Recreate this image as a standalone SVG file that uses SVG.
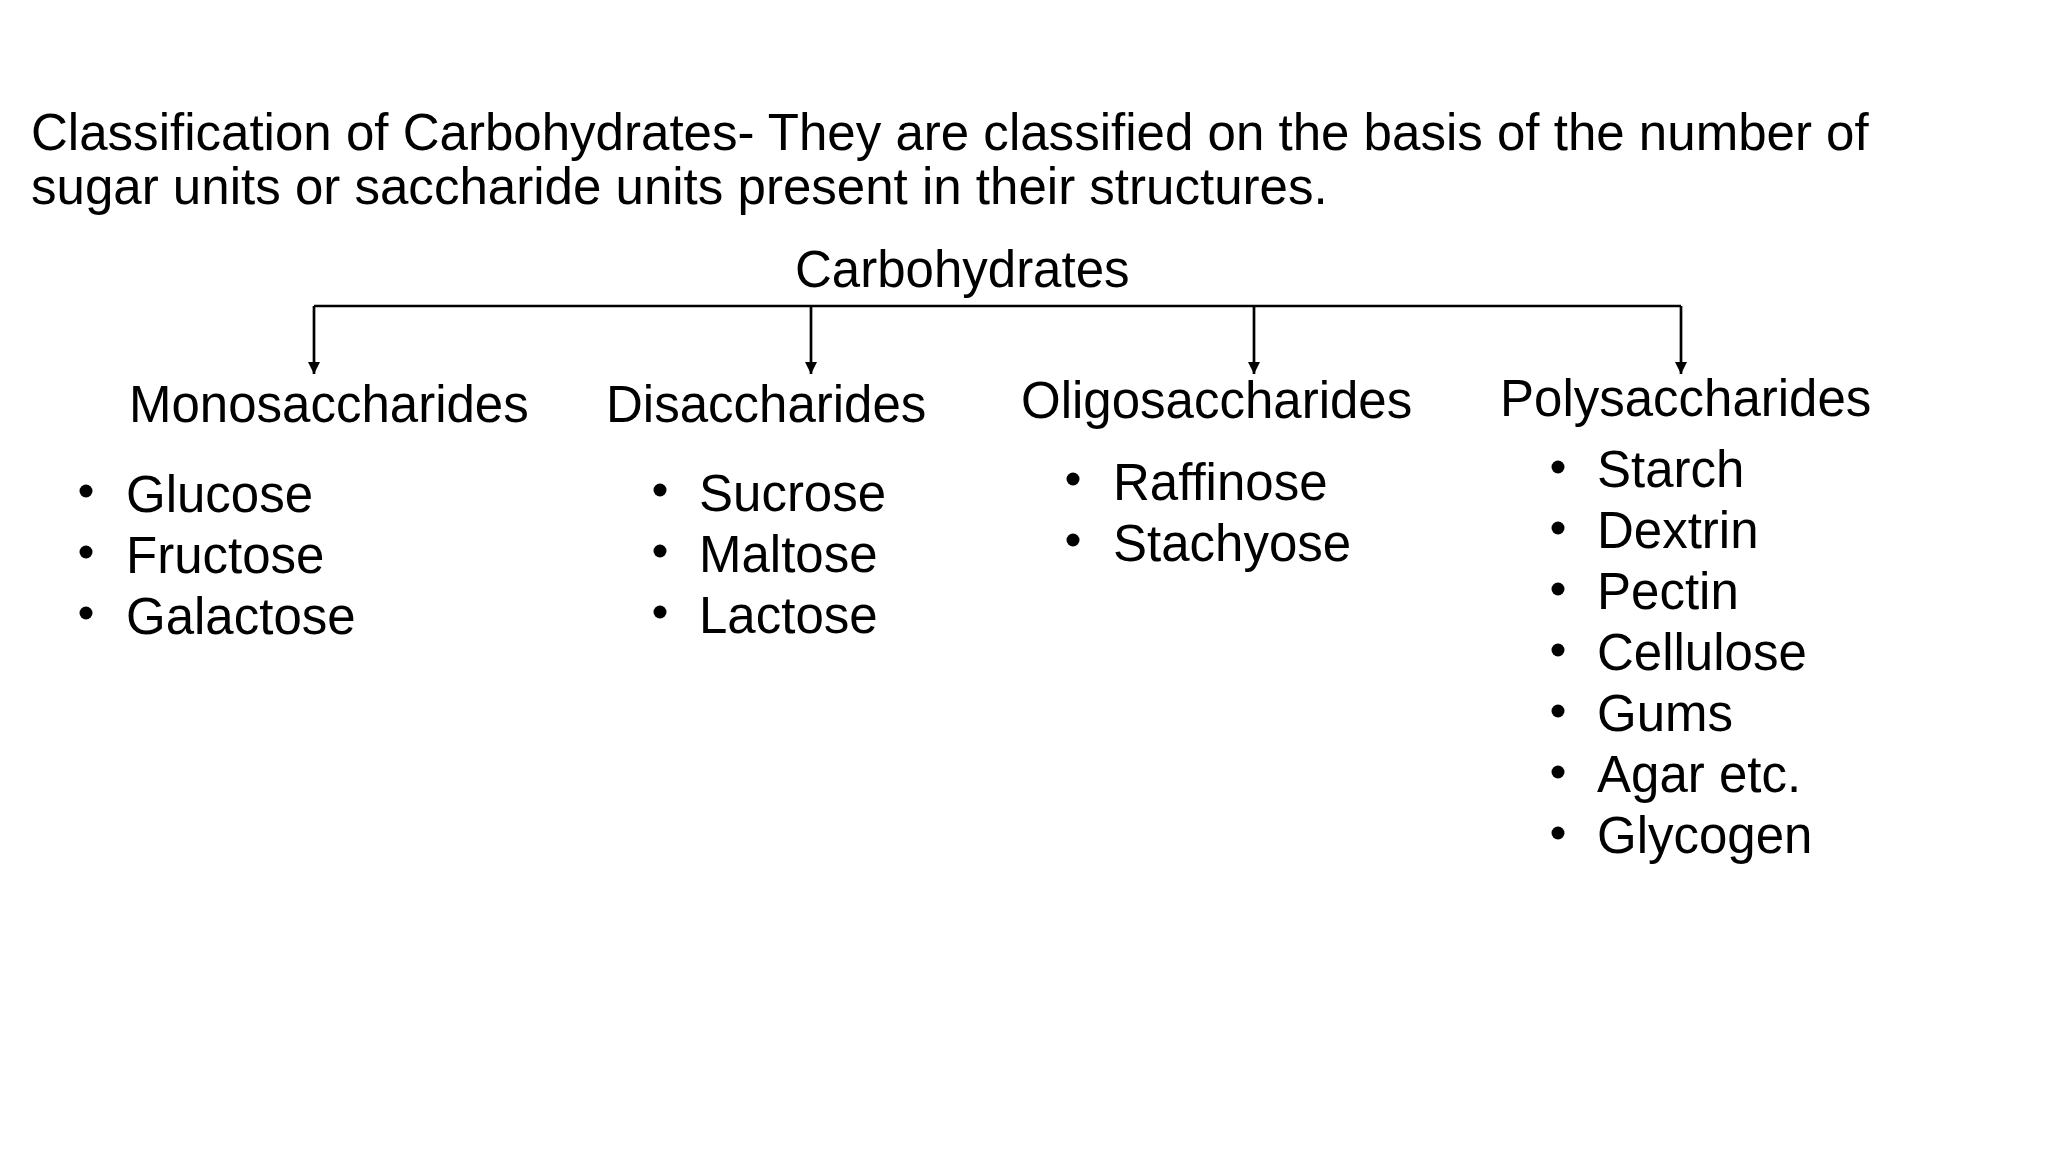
<svg xmlns="http://www.w3.org/2000/svg" width="2048" height="1152" viewBox="0 0 2048 1152">
<style>
text{font-family:"Liberation Sans",Arial,sans-serif;font-size:51px;fill:#000}
.tt{font-size:51.05px}
.ln{stroke:#000;stroke-width:2.7;fill:none}
.bl{fill:#000}
</style>
<defs>
<marker id="ah" viewBox="0 0 12 12" refX="12" refY="6" markerWidth="12" markerHeight="12" markerUnits="userSpaceOnUse" orient="auto">
<path d="M0,0 L12,6 L0,12 Z" fill="#000"/>
</marker>
</defs>
<rect width="2048" height="1152" fill="#fff"/>
<g id="title">
<text class="tt" x="31" y="150">Classification of Carbohydrates- They are classified on the basis of the number of</text>
<text class="tt" x="31" y="204">sugar units or saccharide units present in their structures.</text>
</g>
<g id="root"><text x="795" y="287">Carbohydrates</text></g>
<g id="connectors">
<path class="ln" d="M314,306 H1681"/>
<line class="ln" x1="314" y1="306" x2="314" y2="374" marker-end="url(#ah)"/>
<line class="ln" x1="811" y1="306" x2="811" y2="374" marker-end="url(#ah)"/>
<line class="ln" x1="1254" y1="306" x2="1254" y2="374" marker-end="url(#ah)"/>
<line class="ln" x1="1681" y1="306" x2="1681" y2="374" marker-end="url(#ah)"/>
</g>
<g id="monosaccharides">
<text x="129" y="422">Monosaccharides</text>
<circle class="bl" cx="86" cy="491" r="6.5"/><text x="126" y="512">Glucose</text>
<circle class="bl" cx="86" cy="552" r="6.5"/><text x="126" y="573">Fructose</text>
<circle class="bl" cx="86" cy="613" r="6.5"/><text x="126" y="634">Galactose</text>
</g>
<g id="disaccharides">
<text x="606" y="422">Disaccharides</text>
<circle class="bl" cx="660" cy="490" r="6.5"/><text x="699" y="511">Sucrose</text>
<circle class="bl" cx="660" cy="551" r="6.5"/><text x="699" y="572">Maltose</text>
<circle class="bl" cx="660" cy="612" r="6.5"/><text x="699" y="633">Lactose</text>
</g>
<g id="oligosaccharides">
<text x="1021" y="418">Oligosaccharides</text>
<circle class="bl" cx="1073" cy="479" r="6.5"/><text x="1113" y="500">Raffinose</text>
<circle class="bl" cx="1073" cy="540" r="6.5"/><text x="1113" y="561">Stachyose</text>
</g>
<g id="polysaccharides">
<text x="1500" y="416">Polysaccharides</text>
<circle class="bl" cx="1558" cy="467" r="6.5"/><text x="1597" y="487">Starch</text>
<circle class="bl" cx="1558" cy="528" r="6.5"/><text x="1597" y="548">Dextrin</text>
<circle class="bl" cx="1558" cy="589" r="6.5"/><text x="1597" y="609">Pectin</text>
<circle class="bl" cx="1558" cy="650" r="6.5"/><text x="1597" y="670">Cellulose</text>
<circle class="bl" cx="1558" cy="711" r="6.5"/><text x="1597" y="731">Gums</text>
<circle class="bl" cx="1558" cy="772" r="6.5"/><text x="1597" y="792">Agar etc.</text>
<circle class="bl" cx="1558" cy="833" r="6.5"/><text x="1597" y="853">Glycogen</text>
</g>
</svg>
